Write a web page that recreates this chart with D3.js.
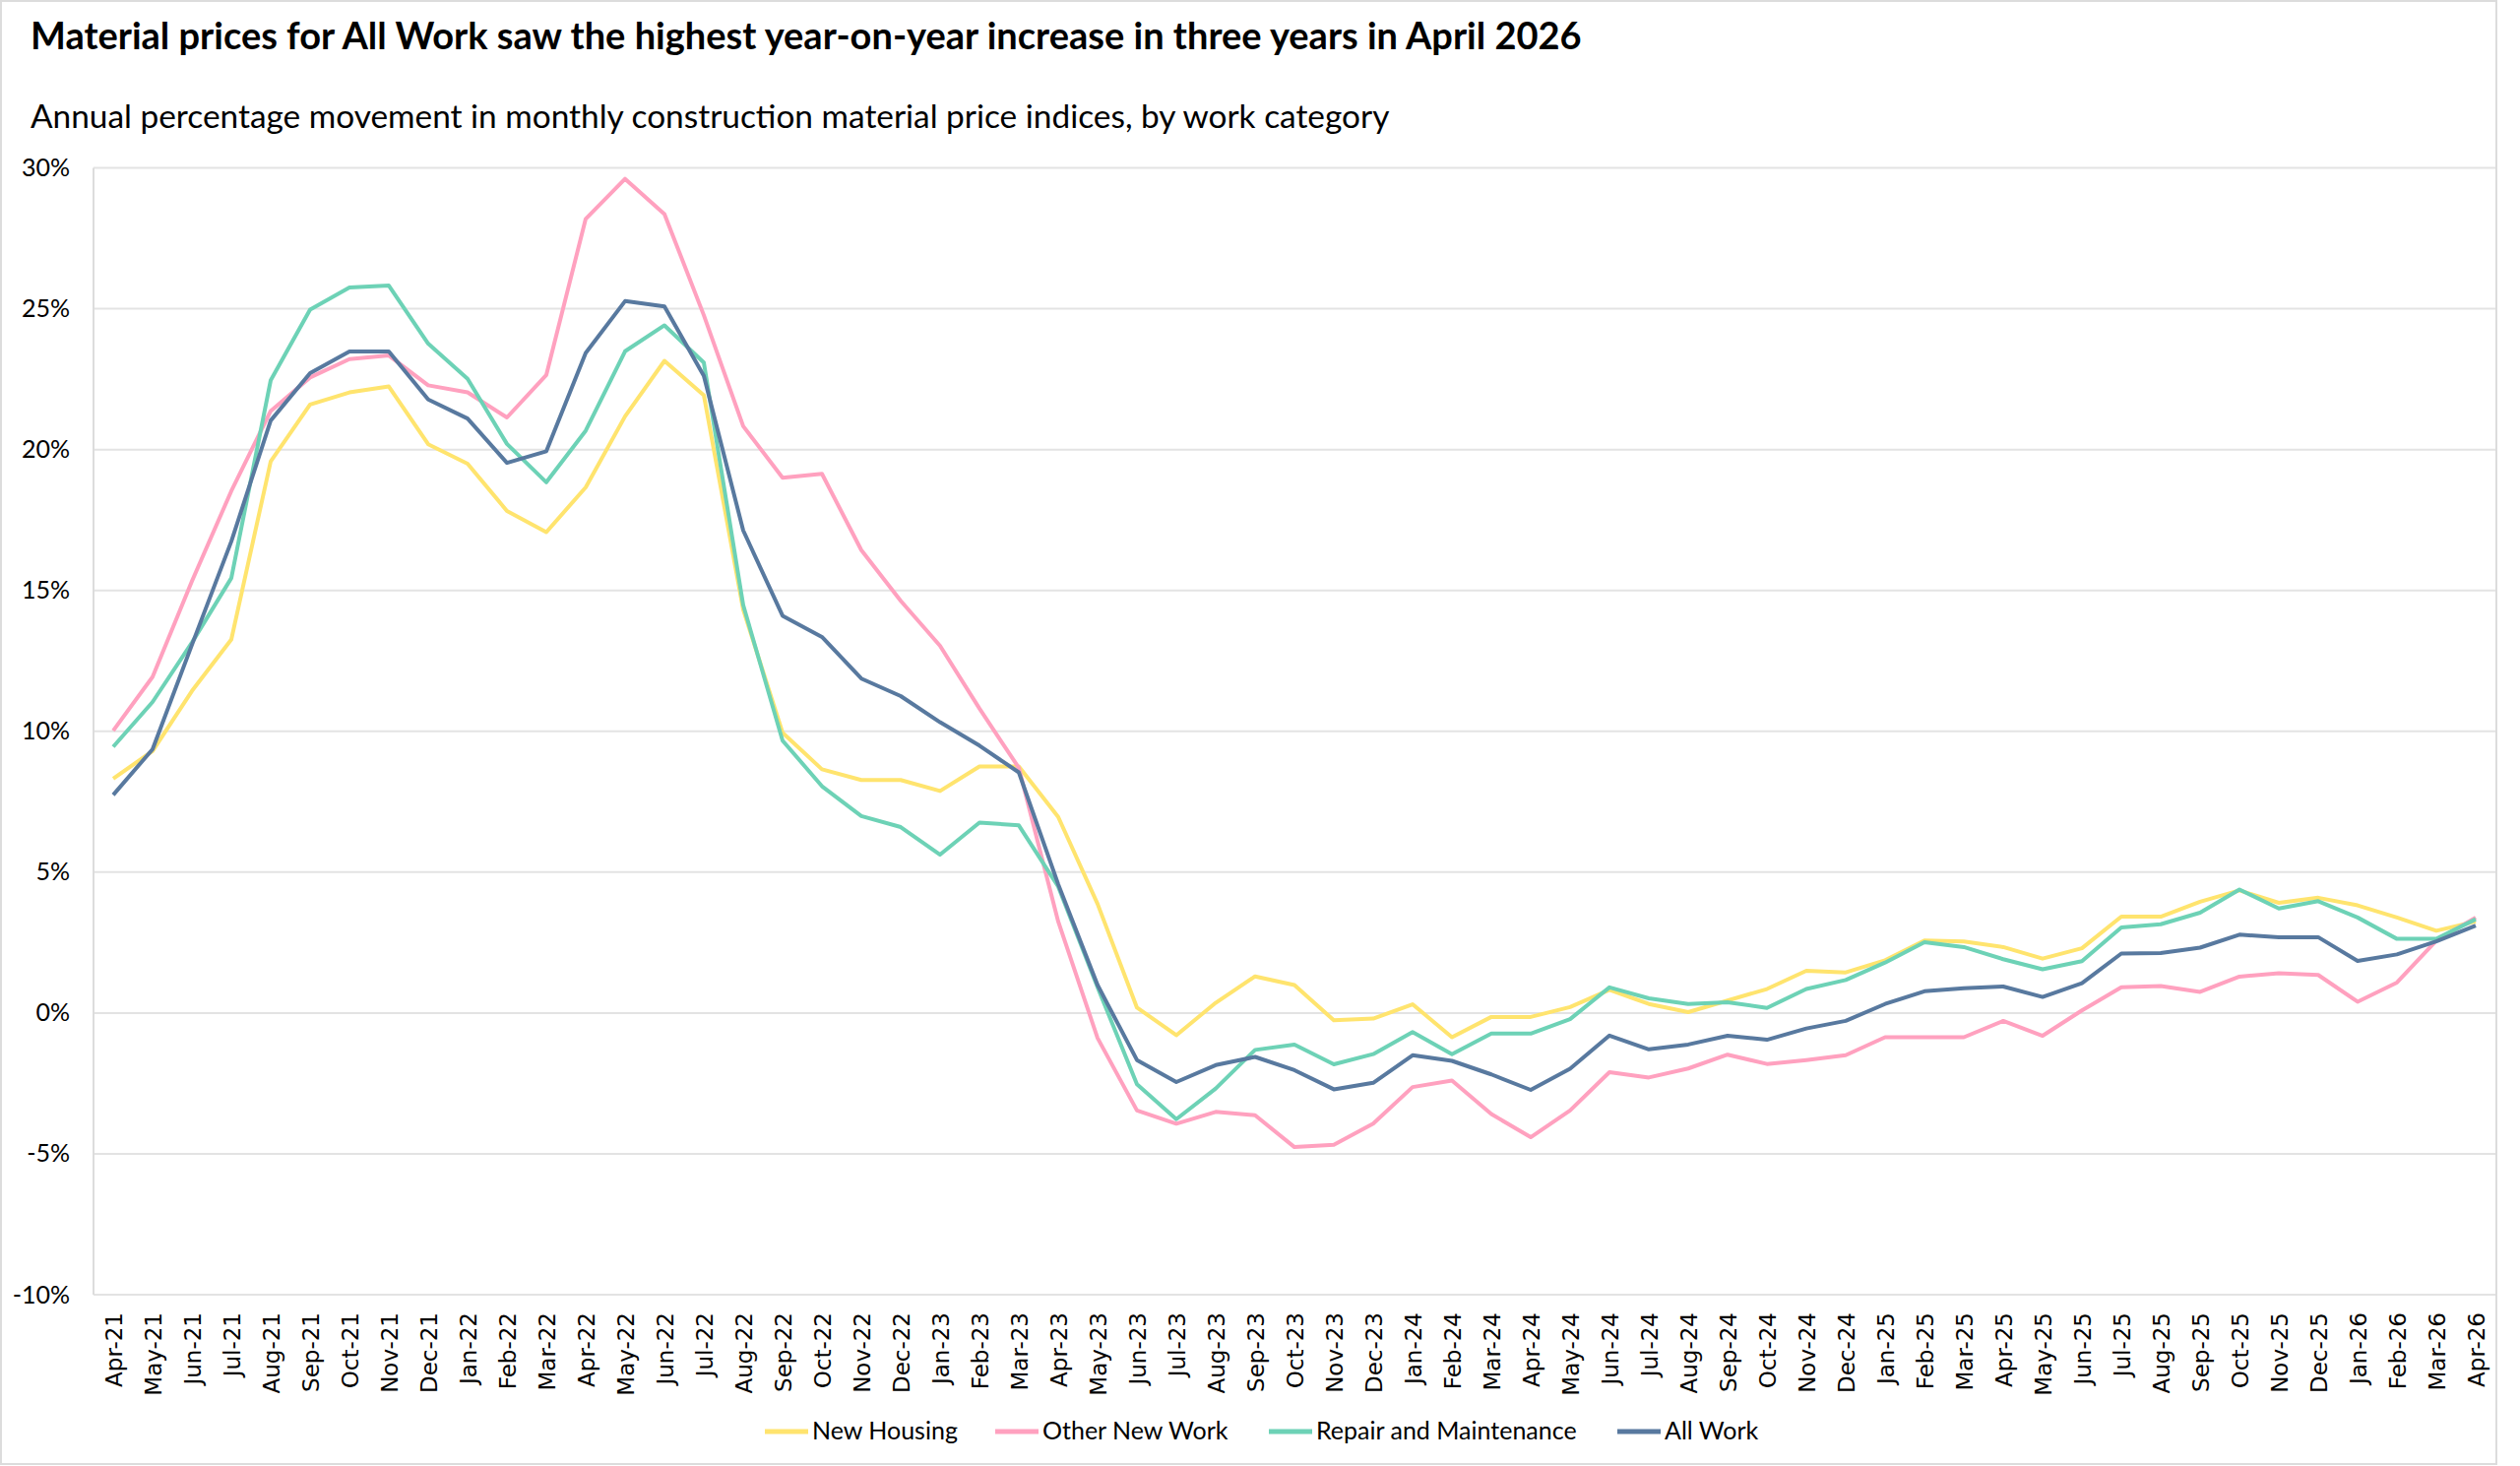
<!DOCTYPE html>
<html><head><meta charset="utf-8">
<script src="https://cdn.jsdelivr.net/npm/d3@7"></script>
<style>
html,body{margin:0;padding:0;background:#fff;}
svg{display:block;}
</style></head>
<body>
<script>
const months = ["Apr-21","May-21","Jun-21","Jul-21","Aug-21","Sep-21","Oct-21","Nov-21","Dec-21","Jan-22","Feb-22","Mar-22","Apr-22","May-22","Jun-22","Jul-22","Aug-22","Sep-22","Oct-22","Nov-22","Dec-22","Jan-23","Feb-23","Mar-23","Apr-23","May-23","Jun-23","Jul-23","Aug-23","Sep-23","Oct-23","Nov-23","Dec-23","Jan-24","Feb-24","Mar-24","Apr-24","May-24","Jun-24","Jul-24","Aug-24","Sep-24","Oct-24","Nov-24","Dec-24","Jan-25","Feb-25","Mar-25","Apr-25","May-25","Jun-25","Jul-25","Aug-25","Sep-25","Oct-25","Nov-25","Dec-25","Jan-26","Feb-26","Mar-26","Apr-26"];

const newHousing = [8.32,9.3,11.43,13.26,19.58,21.6,22.03,22.24,20.19,19.5,17.82,17.07,18.66,21.18,23.15,21.93,14.32,9.95,8.65,8.27,8.27,7.88,8.75,8.75,6.96,3.87,0.19,-0.79,0.36,1.30,0.99,-0.26,-0.20,0.31,-0.86,-0.14,-0.14,0.21,0.82,0.32,0.03,0.44,0.85,1.50,1.44,1.87,2.57,2.54,2.34,1.93,2.30,3.42,3.42,3.95,4.35,3.91,4.09,3.82,3.39,2.92,3.25];

const otherNewWork = [10.02,11.93,15.33,18.53,21.37,22.56,23.21,23.34,22.28,22.03,21.14,22.65,28.19,29.61,28.36,24.77,20.83,19.0,19.14,16.43,14.63,13.03,10.81,8.7,3.25,-0.89,-3.46,-3.93,-3.51,-3.63,-4.76,-4.68,-3.93,-2.63,-2.40,-3.59,-4.41,-3.46,-2.10,-2.29,-1.97,-1.48,-1.81,-1.67,-1.50,-0.86,-0.86,-0.86,-0.28,-0.81,0.09,0.91,0.96,0.75,1.29,1.41,1.35,0.40,1.08,2.57,3.39];

const repairMaintenance = [9.45,11.04,13.15,15.44,22.46,24.97,25.75,25.82,23.76,22.51,20.2,18.84,20.67,23.49,24.41,23.09,14.48,9.67,8.05,6.99,6.6,5.62,6.76,6.66,4.49,0.91,-2.53,-3.77,-2.68,-1.31,-1.12,-1.82,-1.46,-0.68,-1.46,-0.73,-0.73,-0.22,0.91,0.52,0.32,0.38,0.18,0.85,1.17,1.79,2.51,2.34,1.91,1.55,1.84,3.04,3.15,3.56,4.38,3.71,3.97,3.39,2.63,2.63,3.33];

const allWork = [7.74,9.36,13.07,16.74,21.03,22.71,23.48,23.48,21.78,21.1,19.53,19.94,23.43,25.27,25.08,22.62,17.13,14.1,13.35,11.87,11.25,10.32,9.49,8.54,4.57,0.99,-1.67,-2.45,-1.85,-1.56,-2.03,-2.71,-2.48,-1.50,-1.70,-2.18,-2.73,-1.98,-0.80,-1.29,-1.12,-0.81,-0.95,-0.55,-0.28,0.32,0.77,0.88,0.94,0.57,1.06,2.11,2.13,2.32,2.78,2.69,2.69,1.85,2.08,2.54,3.1];

const seriesNames = ["New Housing","Other New Work","Repair and Maintenance","All Work"];
const seriesColors = ["#FFE46E","#FFA1BF","#6DD2B6","#58799F"];
const yTicks = [-10,-5,0,5,10,15,20,25,30];

const title = "Material prices for All Work saw the highest year-on-year increase in three years in April 2026";
const subtitle = "Annual percentage movement in monthly construction material price indices, by work category";

const W = 2560, H = 1489;
const svg = d3.select("body").append("svg").attr("width", W).attr("height", H);

// outer frame
svg.append("rect").attr("x",1).attr("y",1).attr("width",2535).attr("height",1486)
  .attr("fill","#fff").attr("stroke","#dcdcdc").attr("stroke-width",2);

svg.append("text").attr("x",31).attr("y",50)
  .style("font-family","Lato").style("font-weight","700").style("font-size","38px").style("fill","#000")
  .text(title);
svg.append("text").attr("x",31).attr("y",130)
  .style("font-family","Lato").style("font-weight","400").style("font-size","33.4px").style("fill","#000")
  .text(subtitle);

const plotL = 95, plotR = 2535, plotT = 170.5, plotB = 1315;
const x = d3.scalePoint().domain(months).range([plotL, plotR]).padding(0.5);
const y = d3.scaleLinear().domain([-10,30]).range([plotB, plotT]);

// gridlines
svg.append("g").selectAll("line").data(yTicks).join("line")
  .attr("x1",plotL).attr("x2",plotR)
  .attr("y1",d=>y(d)).attr("y2",d=>y(d))
  .attr("stroke","#e3e3e3").attr("stroke-width",2);

// y axis line
svg.append("line").attr("x1",plotL).attr("x2",plotL).attr("y1",plotT).attr("y2",plotB)
  .attr("stroke","#dcdcdc").attr("stroke-width",2);

// y axis labels
const yAxis = d3.axisLeft(y).tickValues(yTicks).tickFormat(d=>d+"%").tickSize(0).tickPadding(24);
const gy = svg.append("g").attr("transform",`translate(${plotL},0)`).call(yAxis);
gy.select(".domain").remove();
gy.selectAll("text").style("font-family","Lato").style("font-size","25px").style("fill","#000");

// x axis labels
const xAxis = d3.axisBottom(x).tickSize(0).tickPadding(0);
const gx = svg.append("g").attr("transform",`translate(0,${plotB})`).call(xAxis);
gx.select(".domain").remove();
gx.selectAll("text")
  .attr("transform","rotate(-90)")
  .attr("x",-18).attr("y",0).attr("dy","0.38em")
  .style("text-anchor","end")
  .style("font-family","DejaVu Sans").style("font-size","23px").style("fill","#000");

// lines
const allSeries = [newHousing, otherNewWork, repairMaintenance, allWork];
const line = d3.line().x((d,i)=>x(months[i])).y(d=>y(d));
svg.append("g").selectAll("path").data(allSeries).join("path")
  .attr("d", d=>line(d))
  .attr("fill","none")
  .attr("stroke",(d,i)=>seriesColors[i])
  .attr("stroke-width",4)
  .attr("stroke-linejoin","round");

// legend
const legendX = [777, 1011, 1289, 1643];
const lg = svg.append("g");
seriesNames.forEach((n,i)=>{
  lg.append("line").attr("x1",legendX[i]).attr("x2",legendX[i]+44)
    .attr("y1",1454).attr("y2",1454)
    .attr("stroke",seriesColors[i]).attr("stroke-width",5);
  lg.append("text").attr("x",legendX[i]+48).attr("y",1462)
    .style("font-family","Lato").style("font-size","25px").style("fill","#000").text(n);
});
</script>
</body></html>
